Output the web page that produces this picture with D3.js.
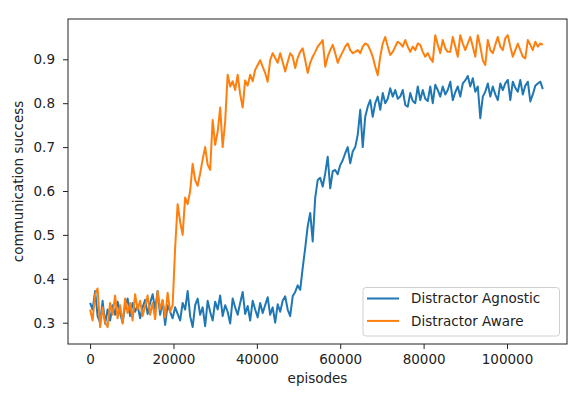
<!DOCTYPE html>
<html>
<head>
<meta charset="utf-8">
<script src="https://cdn.jsdelivr.net/npm/d3@7"></script>
<style>
  body { margin: 0; background: #fff; }
  svg { display: block; font-family: "DejaVu Sans", sans-serif; }
</style>
</head>
<body>
<div id="chart"></div>
<script>
// episodes are logged every 600 steps
const episodeStep = 600;

const agnostic = [
    0.345, 0.330, 0.372, 0.315, 0.300, 0.350, 0.298, 0.330, 0.305, 0.340,
    0.318, 0.348, 0.322, 0.300, 0.338, 0.355, 0.315, 0.345, 0.325, 0.340,
    0.310, 0.335, 0.352, 0.320, 0.345, 0.365, 0.330, 0.372, 0.318, 0.350,
    0.295, 0.340, 0.325, 0.310, 0.335, 0.320, 0.305, 0.345, 0.330, 0.372,
    0.315, 0.290, 0.340, 0.355, 0.318, 0.335, 0.292, 0.350, 0.325, 0.305,
    0.348, 0.330, 0.362, 0.315, 0.340, 0.325, 0.298, 0.355, 0.335, 0.318,
    0.345, 0.370, 0.320, 0.338, 0.305, 0.350, 0.330, 0.312, 0.345, 0.322,
    0.340, 0.358, 0.318, 0.335, 0.300, 0.342, 0.325, 0.350, 0.360, 0.330,
    0.315, 0.360, 0.370, 0.385, 0.375, 0.425, 0.470, 0.520, 0.550, 0.485,
    0.585, 0.625, 0.630, 0.610, 0.640, 0.678, 0.606, 0.645, 0.648, 0.638,
    0.659, 0.670, 0.686, 0.700, 0.663, 0.690, 0.700, 0.728, 0.785, 0.700,
    0.769, 0.792, 0.807, 0.769, 0.800, 0.815, 0.785, 0.823, 0.800, 0.810,
    0.834, 0.815, 0.830, 0.810, 0.815, 0.830, 0.796, 0.792, 0.823, 0.805,
    0.800, 0.838, 0.807, 0.830, 0.810, 0.805, 0.838, 0.800, 0.842, 0.830,
    0.815, 0.838, 0.820, 0.830, 0.849, 0.807, 0.825, 0.838, 0.815, 0.845,
    0.852, 0.862, 0.838, 0.857, 0.826, 0.838, 0.766, 0.815, 0.826, 0.845,
    0.815, 0.838, 0.820, 0.807, 0.845, 0.830, 0.845, 0.853, 0.807, 0.849,
    0.835, 0.826, 0.853, 0.820, 0.840, 0.849, 0.804, 0.820, 0.840, 0.845,
    0.849, 0.832
];

const aware = [
    0.330, 0.305, 0.365, 0.378, 0.290, 0.335, 0.300, 0.290, 0.345, 0.318,
    0.362, 0.310, 0.340, 0.298, 0.355, 0.322, 0.345, 0.305, 0.365, 0.330,
    0.350, 0.315, 0.338, 0.362, 0.318, 0.345, 0.308, 0.372, 0.330, 0.352,
    0.312, 0.368, 0.325, 0.340, 0.470, 0.570, 0.530, 0.500, 0.585, 0.570,
    0.600, 0.662, 0.625, 0.612, 0.640, 0.672, 0.700, 0.660, 0.648, 0.762,
    0.705, 0.735, 0.790, 0.700, 0.758, 0.865, 0.838, 0.850, 0.830, 0.865,
    0.820, 0.790, 0.852, 0.840, 0.865, 0.850, 0.876, 0.887, 0.898, 0.883,
    0.869, 0.849, 0.898, 0.914, 0.903, 0.892, 0.914, 0.894, 0.872, 0.894,
    0.914, 0.906, 0.880, 0.903, 0.917, 0.925, 0.898, 0.869, 0.892, 0.906,
    0.917, 0.929, 0.936, 0.944, 0.883, 0.906, 0.921, 0.933, 0.914, 0.892,
    0.906, 0.917, 0.929, 0.936, 0.921, 0.914, 0.917, 0.921, 0.914, 0.929,
    0.936, 0.933, 0.921, 0.906, 0.883, 0.864, 0.906, 0.936, 0.951, 0.929,
    0.910, 0.917, 0.929, 0.940, 0.936, 0.929, 0.944, 0.929, 0.917, 0.929,
    0.921, 0.936, 0.933, 0.917, 0.906, 0.914, 0.902, 0.894, 0.955, 0.933,
    0.914, 0.944, 0.925, 0.917, 0.917, 0.951, 0.929, 0.906, 0.955, 0.936,
    0.921, 0.936, 0.951, 0.929, 0.906, 0.955, 0.929, 0.898, 0.887, 0.944,
    0.921, 0.914, 0.933, 0.951, 0.929, 0.921, 0.948, 0.955, 0.929, 0.906,
    0.921, 0.936, 0.921, 0.906, 0.902, 0.944, 0.933, 0.921, 0.940, 0.929,
    0.936, 0.933
];

const seriesNames = ["Distractor Agnostic", "Distractor Aware"];
const seriesColors = ["#1f77b4", "#ff7f0e"];
const xTicks = [0, 20000, 40000, 60000, 80000, 100000];
const yTicks = [0.3, 0.4, 0.5, 0.6, 0.7, 0.8, 0.9];

const series = [agnostic, aware].map(function(values, k) {
    return {
        name: seriesNames[k],
        color: seriesColors[k],
        points: values.map((v, i) => ({ episode: i * episodeStep, value: v }))
    };
});

const margin = {top: 19, right: 18, bottom: 60, left: 68};
const width = 585 - margin.left - margin.right;
const height = 404 - margin.top - margin.bottom;

const svg = d3.select("#chart")
    .append("svg")
    .attr("width", width + margin.left + margin.right)
    .attr("height", height + margin.top + margin.bottom)
    .append("g")
    .attr("transform", `translate(${margin.left},${margin.top})`);

const xScale = d3.scaleLinear()
    .domain([-5300, 114400])
    .range([0, width]);

const yScale = d3.scaleLinear()
    .domain([0.2515, 0.9918])
    .range([height, 0]);

// axes
const xAxis = svg.append("g")
    .attr("transform", `translate(0,${height})`)
    .call(d3.axisBottom(xScale).tickValues(xTicks).tickFormat(d3.format("d"))
        .tickSize(5).tickSizeOuter(0).tickPadding(5.5));

const yAxis = svg.append("g")
    .call(d3.axisLeft(yScale).tickValues(yTicks).tickFormat(d3.format(".1f"))
        .tickSize(5).tickSizeOuter(0).tickPadding(8));

[xAxis, yAxis].forEach(function(ax) {
    ax.select(".domain").remove();
    ax.selectAll("line").attr("stroke", "#222").attr("stroke-width", 1);
    ax.selectAll("text")
        .attr("fill", "#222")
        .style("font-size", "13.5px")
        .style("font-family", "'DejaVu Sans', sans-serif");
});

// lines
const line = d3.line()
    .x(d => xScale(d.episode))
    .y(d => yScale(d.value));

svg.selectAll(".series")
    .data(series)
    .enter()
    .append("path")
    .attr("class", "series")
    .attr("d", d => line(d.points))
    .attr("fill", "none")
    .attr("stroke", d => d.color)
    .attr("stroke-width", 2)
    .attr("stroke-linejoin", "round");

// frame
svg.append("rect")
    .attr("width", width)
    .attr("height", height)
    .attr("fill", "none")
    .attr("stroke", "#222")
    .attr("stroke-width", 1);

// axis labels
svg.append("text")
    .attr("x", width / 2)
    .attr("y", height + 39)
    .style("text-anchor", "middle")
    .style("font-size", "13.5px")
    .attr("fill", "#222")
    .text("episodes");

svg.append("text")
    .attr("transform", "rotate(-90)")
    .attr("x", -height / 2)
    .attr("y", -margin.left + 23)
    .style("text-anchor", "middle")
    .style("font-size", "13.5px")
    .attr("fill", "#222")
    .text("communication success");

// legend
const legendBox = {x: 295, y: 268.5, w: 196.5, h: 48.5};
svg.append("rect")
    .attr("x", legendBox.x)
    .attr("y", legendBox.y)
    .attr("width", legendBox.w)
    .attr("height", legendBox.h)
    .attr("rx", 3)
    .attr("fill", "#fff")
    .attr("fill-opacity", 0.8)
    .attr("stroke", "#d0d0d0")
    .attr("stroke-width", 1);

const legend = svg.selectAll(".legend")
    .data(series)
    .enter().append("g")
    .attr("class", "legend")
    .attr("transform", (d, i) => `translate(${legendBox.x + 4},${legendBox.y + 11 + i * 22.4})`);

legend.append("line")
    .attr("x1", 0)
    .attr("x2", 32)
    .attr("stroke", d => d.color)
    .attr("stroke-width", 2);

legend.append("text")
    .attr("x", 44)
    .attr("dy", "0.35em")
    .style("font-size", "13.5px")
    .attr("fill", "#222")
    .text(d => d.name);
</script>
</body>
</html>
